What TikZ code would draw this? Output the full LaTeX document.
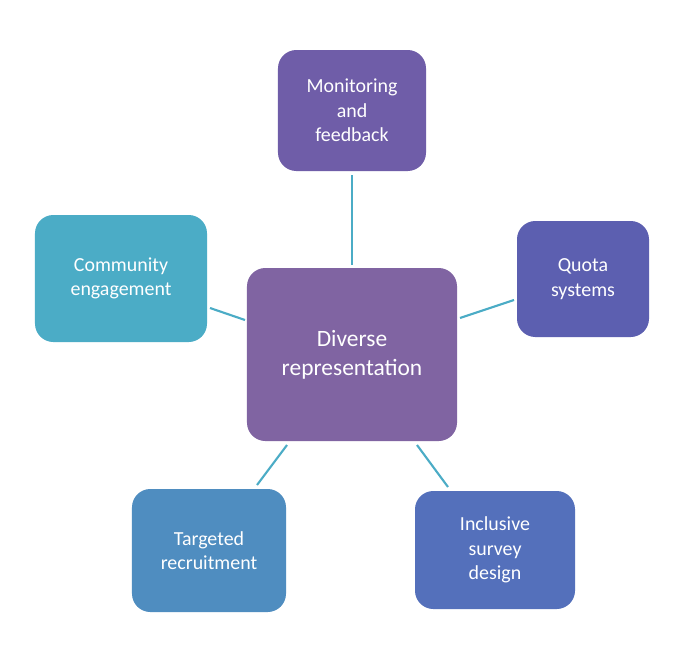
\documentclass[tikz,border=0pt]{standalone}
\usepackage{fontspec}
\setmainfont{Carlito}
\begin{document}
\begin{tikzpicture}[x=0.03cm,y=-0.03cm,
box/.style={rounded corners=0.55cm,text=white,align=center,inner sep=0pt,font=\fontsize{17}{21}\selectfont},
conn/.style={draw=cteal,line width=1.8pt}]
\definecolor{cteal}{HTML}{4BACC6}
\useasboundingbox[fill=white] (0,0) rectangle (695,660);
\node[box,fill={rgb,255:red,128;green,100;blue,162},minimum width=6.3cm,minimum height=5.19cm,font=\fontsize{20}{25}\selectfont] (c) at (352,354.5) {Diverse\\representation};
\node[box,fill={rgb,255:red,111;green,93;blue,168},minimum width=4.44cm,minimum height=3.63cm] (m) at (352,110.5) {Monitoring\\and\\feedback};
\node[box,fill={rgb,255:red,92;green,95;blue,176},minimum width=3.96cm,minimum height=3.48cm] (q) at (583,279) {Quota\\systems};
\node[box,fill={rgb,255:red,75;green,172;blue,198},minimum width=5.16cm,minimum height=3.81cm] (k) at (121,278.5) {Community\\engagement};
\node[box,fill={rgb,255:red,79;green,141;blue,192},minimum width=4.62cm,minimum height=3.69cm] (t) at (209,550.5) {Targeted\\recruitment};
\node[box,fill={rgb,255:red,84;green,112;blue,187},minimum width=4.8cm,minimum height=3.54cm] (i) at (495,550) {Inclusive\\survey\\design};
\coordinate (m1) at (352,175); \coordinate (m2) at (352,265);
\coordinate (q1) at (514,300); \coordinate (q2) at (460,318);
\coordinate (k1) at (210,308); \coordinate (k2) at (245,320);
\coordinate (t1) at (257,485); \coordinate (t2) at (287,445);
\coordinate (i1) at (448,487); \coordinate (i2) at (417,445);
\draw[conn] (m1) -- (m2);
\draw[conn] (q1) -- (q2);
\draw[conn] (k1) -- (k2);
\draw[conn] (t1) -- (t2);
\draw[conn] (i1) -- (i2);
\end{tikzpicture}
\end{document}
